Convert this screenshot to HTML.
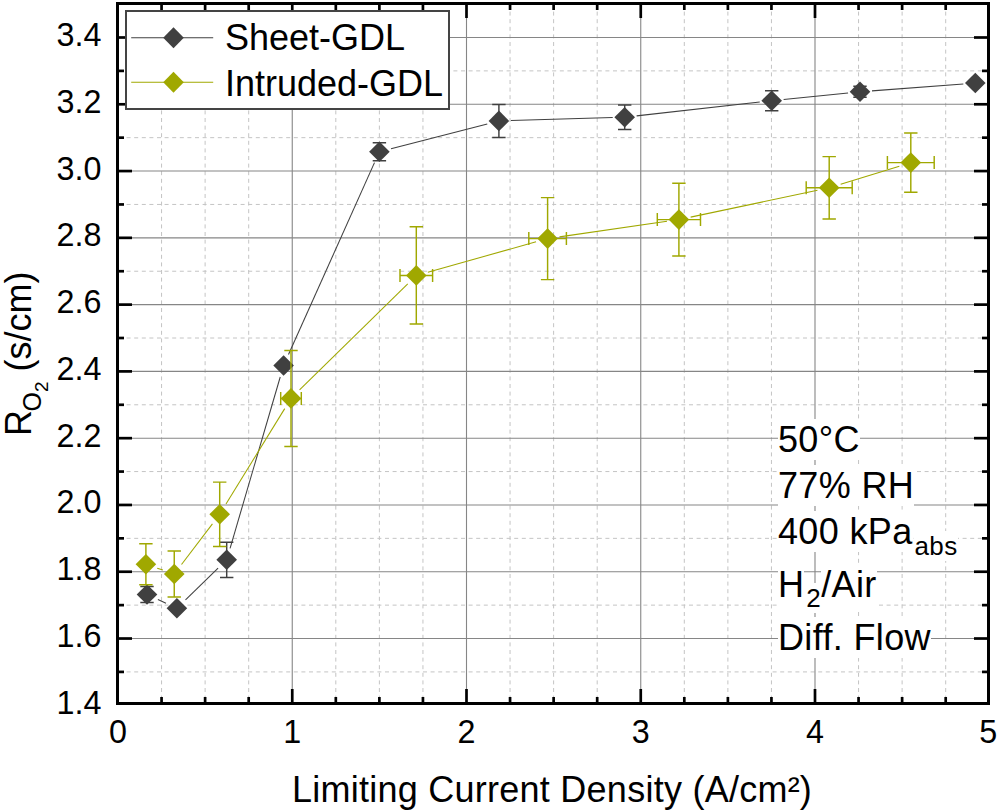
<!DOCTYPE html>
<html><head><meta charset="utf-8">
<style>
html,body{margin:0;padding:0;background:#fff;}
body{width:1000px;height:812px;position:relative;overflow:hidden;font-family:"Liberation Sans",sans-serif;}
svg{position:absolute;left:0;top:0;}
.mg{stroke:#c4c4c4;stroke-width:1;stroke-dasharray:4 3.6;}
.mgh{stroke:#c4c4c4;stroke-width:1;stroke-dasharray:4 3.6;}
.Mg{stroke:#868686;stroke-width:1.1;}
.tk{stroke:#000;stroke-width:2.7;}
.tl{font-size:32.3px;fill:#000;}
.legend{position:absolute;left:125px;top:10px;width:321px;height:96px;border:2px solid #444;background:#fff;}
.lt{position:absolute;font-size:36px;line-height:1;color:#000;white-space:nowrap;}
.ann{position:absolute;left:778px;font-size:36px;white-space:nowrap;color:#000;letter-spacing:0.35px;}
.ann span{background:#fff;}
.ytitle{position:absolute;font-size:36px;white-space:nowrap;transform-origin:0 0;transform:rotate(-90deg);}
.xtitle{position:absolute;font-size:36px;white-space:nowrap;letter-spacing:0.25px;}
</style></head><body>
<svg width="1000" height="812" viewBox="0 0 1000 812">
<line x1="161.56" y1="4" x2="161.56" y2="702" class="mg"/>
<line x1="205.12" y1="4" x2="205.12" y2="702" class="mg"/>
<line x1="248.69" y1="4" x2="248.69" y2="702" class="mg"/>
<line x1="335.81" y1="4" x2="335.81" y2="702" class="mg"/>
<line x1="379.38" y1="4" x2="379.38" y2="702" class="mg"/>
<line x1="422.94" y1="4" x2="422.94" y2="702" class="mg"/>
<line x1="510.06" y1="4" x2="510.06" y2="702" class="mg"/>
<line x1="553.62" y1="4" x2="553.62" y2="702" class="mg"/>
<line x1="597.19" y1="4" x2="597.19" y2="702" class="mg"/>
<line x1="684.31" y1="4" x2="684.31" y2="702" class="mg"/>
<line x1="727.88" y1="4" x2="727.88" y2="702" class="mg"/>
<line x1="771.44" y1="4" x2="771.44" y2="702" class="mg"/>
<line x1="858.56" y1="4" x2="858.56" y2="702" class="mg"/>
<line x1="902.12" y1="4" x2="902.12" y2="702" class="mg"/>
<line x1="945.69" y1="4" x2="945.69" y2="702" class="mg"/>
<line x1="119" y1="671.91" x2="987" y2="671.91" class="mgh"/>
<line x1="119" y1="605.13" x2="987" y2="605.13" class="mgh"/>
<line x1="119" y1="538.35" x2="987" y2="538.35" class="mgh"/>
<line x1="119" y1="471.57" x2="987" y2="471.57" class="mgh"/>
<line x1="119" y1="404.79" x2="987" y2="404.79" class="mgh"/>
<line x1="119" y1="338.01" x2="987" y2="338.01" class="mgh"/>
<line x1="119" y1="271.23" x2="987" y2="271.23" class="mgh"/>
<line x1="119" y1="204.45" x2="987" y2="204.45" class="mgh"/>
<line x1="119" y1="137.67" x2="987" y2="137.67" class="mgh"/>
<line x1="119" y1="70.89" x2="987" y2="70.89" class="mgh"/>
<line x1="292.25" y1="4" x2="292.25" y2="702" class="Mg"/>
<line x1="466.50" y1="4" x2="466.50" y2="702" class="Mg"/>
<line x1="640.75" y1="4" x2="640.75" y2="702" class="Mg"/>
<line x1="815.00" y1="4" x2="815.00" y2="702" class="Mg"/>
<line x1="119" y1="638.52" x2="987" y2="638.52" class="Mg"/>
<line x1="119" y1="571.74" x2="987" y2="571.74" class="Mg"/>
<line x1="119" y1="504.96" x2="987" y2="504.96" class="Mg"/>
<line x1="119" y1="438.18" x2="987" y2="438.18" class="Mg"/>
<line x1="119" y1="371.40" x2="987" y2="371.40" class="Mg"/>
<line x1="119" y1="304.62" x2="987" y2="304.62" class="Mg"/>
<line x1="119" y1="237.84" x2="987" y2="237.84" class="Mg"/>
<line x1="119" y1="171.06" x2="987" y2="171.06" class="Mg"/>
<line x1="119" y1="104.28" x2="987" y2="104.28" class="Mg"/>
<line x1="119" y1="37.50" x2="987" y2="37.50" class="Mg"/>
<line x1="157.91" y1="599.50" x2="165.99" y2="603.20" stroke="#404040" stroke-width="1.05"/>
<line x1="185.51" y1="599.84" x2="218.09" y2="568.16" stroke="#404040" stroke-width="1.05"/>
<line x1="230.07" y1="548.28" x2="280.23" y2="377.02" stroke="#404040" stroke-width="1.05"/>
<line x1="288.51" y1="354.55" x2="374.49" y2="162.65" stroke="#404040" stroke-width="1.05"/>
<line x1="391.02" y1="148.70" x2="487.28" y2="123.90" stroke="#404040" stroke-width="1.05"/>
<line x1="510.89" y1="120.55" x2="612.71" y2="117.55" stroke="#404040" stroke-width="1.05"/>
<line x1="636.63" y1="115.86" x2="759.77" y2="102.04" stroke="#404040" stroke-width="1.05"/>
<line x1="783.64" y1="99.50" x2="848.06" y2="93.00" stroke="#404040" stroke-width="1.05"/>
<line x1="871.97" y1="90.89" x2="963.33" y2="83.91" stroke="#404040" stroke-width="1.05"/>
<path d="M147.00 586.50V602.50M140.30 586.50H153.70M140.30 602.50H153.70" stroke="#404040" stroke-width="1.45" fill="none"/>
<path d="M226.70 542.20V577.40M220.00 542.20H233.40M220.00 577.40H233.40" stroke="#404040" stroke-width="1.45" fill="none"/>
<path d="M379.40 142.70V160.70M372.70 142.70H386.10M372.70 160.70H386.10" stroke="#404040" stroke-width="1.45" fill="none"/>
<path d="M498.90 104.40V137.40M492.20 104.40H505.60M492.20 137.40H505.60" stroke="#404040" stroke-width="1.45" fill="none"/>
<path d="M624.70 105.00V129.40M618.00 105.00H631.40M618.00 129.40H631.40" stroke="#404040" stroke-width="1.45" fill="none"/>
<path d="M771.70 90.70V110.70M765.00 90.70H778.40M765.00 110.70H778.40" stroke="#404040" stroke-width="1.45" fill="none"/>
<path d="M860.00 86.30V97.30M853.30 86.30H866.70M853.30 97.30H866.70" stroke="#404040" stroke-width="1.45" fill="none"/>
<path d="M147.00 584.20L157.30 594.50L147.00 604.80L136.70 594.50Z" fill="#404040"/>
<path d="M176.90 597.90L187.20 608.20L176.90 618.50L166.60 608.20Z" fill="#404040"/>
<path d="M226.70 549.50L237.00 559.80L226.70 570.10L216.40 559.80Z" fill="#404040"/>
<path d="M283.60 355.20L293.90 365.50L283.60 375.80L273.30 365.50Z" fill="#404040"/>
<path d="M379.40 141.40L389.70 151.70L379.40 162.00L369.10 151.70Z" fill="#404040"/>
<path d="M498.90 110.60L509.20 120.90L498.90 131.20L488.60 120.90Z" fill="#404040"/>
<path d="M624.70 106.90L635.00 117.20L624.70 127.50L614.40 117.20Z" fill="#404040"/>
<path d="M771.70 90.40L782.00 100.70L771.70 111.00L761.40 100.70Z" fill="#404040"/>
<path d="M860.00 81.50L870.30 91.80L860.00 102.10L849.70 91.80Z" fill="#404040"/>
<path d="M975.30 72.70L985.60 83.00L975.30 93.30L965.00 83.00Z" fill="#404040"/>
<line x1="157.25" y1="568.18" x2="162.90" y2="570.12" stroke="#a0a800" stroke-width="1.05"/>
<line x1="181.52" y1="564.45" x2="212.43" y2="523.85" stroke="#a0a800" stroke-width="1.05"/>
<line x1="225.99" y1="504.08" x2="284.71" y2="408.62" stroke="#a0a800" stroke-width="1.05"/>
<line x1="299.56" y1="389.99" x2="407.74" y2="283.81" stroke="#a0a800" stroke-width="1.05"/>
<line x1="427.85" y1="272.16" x2="536.05" y2="241.84" stroke="#a0a800" stroke-width="1.05"/>
<line x1="559.48" y1="236.88" x2="667.02" y2="221.32" stroke="#a0a800" stroke-width="1.05"/>
<line x1="690.64" y1="217.12" x2="817.46" y2="190.28" stroke="#a0a800" stroke-width="1.05"/>
<line x1="840.67" y1="184.26" x2="899.33" y2="166.14" stroke="#a0a800" stroke-width="1.05"/>
<path d="M145.90 543.80V584.80M139.20 543.80H152.60M139.20 584.80H152.60" stroke="#a0a800" stroke-width="1.45" fill="none"/>
<path d="M174.25 551.00V597.00M167.55 551.00H180.95M167.55 597.00H180.95" stroke="#a0a800" stroke-width="1.45" fill="none"/>
<path d="M219.70 482.10V546.50M213.00 482.10H226.40M213.00 546.50H226.40" stroke="#a0a800" stroke-width="1.45" fill="none"/>
<path d="M291.00 350.40V446.40M284.30 350.40H297.70M284.30 446.40H297.70" stroke="#a0a800" stroke-width="1.45" fill="none"/>
<path d="M280.70 398.40H301.30M280.70 391.90V404.90M301.30 391.90V404.90" stroke="#a0a800" stroke-width="1.45" fill="none"/>
<path d="M416.30 226.80V324.00M409.60 226.80H423.00M409.60 324.00H423.00" stroke="#a0a800" stroke-width="1.45" fill="none"/>
<path d="M400.00 275.40H432.60M400.00 268.90V281.90M432.60 268.90V281.90" stroke="#a0a800" stroke-width="1.45" fill="none"/>
<path d="M547.60 197.60V279.60M540.90 197.60H554.30M540.90 279.60H554.30" stroke="#a0a800" stroke-width="1.45" fill="none"/>
<path d="M528.80 238.60H566.40M528.80 232.10V245.10M566.40 232.10V245.10" stroke="#a0a800" stroke-width="1.45" fill="none"/>
<path d="M678.90 183.20V256.00M672.20 183.20H685.60M672.20 256.00H685.60" stroke="#a0a800" stroke-width="1.45" fill="none"/>
<path d="M657.30 219.60H700.50M657.30 213.10V226.10M700.50 213.10V226.10" stroke="#a0a800" stroke-width="1.45" fill="none"/>
<path d="M829.20 156.60V219.00M822.50 156.60H835.90M822.50 219.00H835.90" stroke="#a0a800" stroke-width="1.45" fill="none"/>
<path d="M806.20 187.80H852.20M806.20 181.30V194.30M852.20 181.30V194.30" stroke="#a0a800" stroke-width="1.45" fill="none"/>
<path d="M910.80 132.90V192.30M904.10 132.90H917.50M904.10 192.30H917.50" stroke="#a0a800" stroke-width="1.45" fill="none"/>
<path d="M887.40 162.60H934.20M887.40 156.10V169.10M934.20 156.10V169.10" stroke="#a0a800" stroke-width="1.45" fill="none"/>
<path d="M145.90 554.00L156.20 564.30L145.90 574.60L135.60 564.30Z" fill="#a0a800"/>
<path d="M174.25 563.70L184.55 574.00L174.25 584.30L163.95 574.00Z" fill="#a0a800"/>
<path d="M219.70 504.00L230.00 514.30L219.70 524.60L209.40 514.30Z" fill="#a0a800"/>
<path d="M291.00 388.10L301.30 398.40L291.00 408.70L280.70 398.40Z" fill="#a0a800"/>
<path d="M416.30 265.10L426.60 275.40L416.30 285.70L406.00 275.40Z" fill="#a0a800"/>
<path d="M547.60 228.30L557.90 238.60L547.60 248.90L537.30 238.60Z" fill="#a0a800"/>
<path d="M678.90 209.30L689.20 219.60L678.90 229.90L668.60 219.60Z" fill="#a0a800"/>
<path d="M829.20 177.50L839.50 187.80L829.20 198.10L818.90 187.80Z" fill="#a0a800"/>
<path d="M910.80 152.30L921.10 162.60L910.80 172.90L900.50 162.60Z" fill="#a0a800"/>
<rect x="116" y="2" width="3" height="703" fill="#000"/>
<rect x="987" y="2" width="3" height="703" fill="#000"/>
<rect x="116" y="2" width="874" height="3" fill="#000"/>
<rect x="116" y="702" width="874" height="3" fill="#000"/>
<line x1="161.56" y1="702" x2="161.56" y2="697" class="tk"/>
<line x1="161.56" y1="5" x2="161.56" y2="10" class="tk"/>
<line x1="205.12" y1="702" x2="205.12" y2="697" class="tk"/>
<line x1="205.12" y1="5" x2="205.12" y2="10" class="tk"/>
<line x1="248.69" y1="702" x2="248.69" y2="697" class="tk"/>
<line x1="248.69" y1="5" x2="248.69" y2="10" class="tk"/>
<line x1="292.25" y1="702" x2="292.25" y2="689" class="tk"/>
<line x1="292.25" y1="5" x2="292.25" y2="18" class="tk"/>
<line x1="335.81" y1="702" x2="335.81" y2="697" class="tk"/>
<line x1="335.81" y1="5" x2="335.81" y2="10" class="tk"/>
<line x1="379.38" y1="702" x2="379.38" y2="697" class="tk"/>
<line x1="379.38" y1="5" x2="379.38" y2="10" class="tk"/>
<line x1="422.94" y1="702" x2="422.94" y2="697" class="tk"/>
<line x1="422.94" y1="5" x2="422.94" y2="10" class="tk"/>
<line x1="466.50" y1="702" x2="466.50" y2="689" class="tk"/>
<line x1="466.50" y1="5" x2="466.50" y2="18" class="tk"/>
<line x1="510.06" y1="702" x2="510.06" y2="697" class="tk"/>
<line x1="510.06" y1="5" x2="510.06" y2="10" class="tk"/>
<line x1="553.62" y1="702" x2="553.62" y2="697" class="tk"/>
<line x1="553.62" y1="5" x2="553.62" y2="10" class="tk"/>
<line x1="597.19" y1="702" x2="597.19" y2="697" class="tk"/>
<line x1="597.19" y1="5" x2="597.19" y2="10" class="tk"/>
<line x1="640.75" y1="702" x2="640.75" y2="689" class="tk"/>
<line x1="640.75" y1="5" x2="640.75" y2="18" class="tk"/>
<line x1="684.31" y1="702" x2="684.31" y2="697" class="tk"/>
<line x1="684.31" y1="5" x2="684.31" y2="10" class="tk"/>
<line x1="727.88" y1="702" x2="727.88" y2="697" class="tk"/>
<line x1="727.88" y1="5" x2="727.88" y2="10" class="tk"/>
<line x1="771.44" y1="702" x2="771.44" y2="697" class="tk"/>
<line x1="771.44" y1="5" x2="771.44" y2="10" class="tk"/>
<line x1="815.00" y1="702" x2="815.00" y2="689" class="tk"/>
<line x1="815.00" y1="5" x2="815.00" y2="18" class="tk"/>
<line x1="858.56" y1="702" x2="858.56" y2="697" class="tk"/>
<line x1="858.56" y1="5" x2="858.56" y2="10" class="tk"/>
<line x1="902.12" y1="702" x2="902.12" y2="697" class="tk"/>
<line x1="902.12" y1="5" x2="902.12" y2="10" class="tk"/>
<line x1="945.69" y1="702" x2="945.69" y2="697" class="tk"/>
<line x1="945.69" y1="5" x2="945.69" y2="10" class="tk"/>
<line x1="119" y1="671.91" x2="124" y2="671.91" class="tk"/>
<line x1="987" y1="671.91" x2="982" y2="671.91" class="tk"/>
<line x1="119" y1="638.52" x2="132" y2="638.52" class="tk"/>
<line x1="987" y1="638.52" x2="974" y2="638.52" class="tk"/>
<line x1="119" y1="605.13" x2="124" y2="605.13" class="tk"/>
<line x1="987" y1="605.13" x2="982" y2="605.13" class="tk"/>
<line x1="119" y1="571.74" x2="132" y2="571.74" class="tk"/>
<line x1="987" y1="571.74" x2="974" y2="571.74" class="tk"/>
<line x1="119" y1="538.35" x2="124" y2="538.35" class="tk"/>
<line x1="987" y1="538.35" x2="982" y2="538.35" class="tk"/>
<line x1="119" y1="504.96" x2="132" y2="504.96" class="tk"/>
<line x1="987" y1="504.96" x2="974" y2="504.96" class="tk"/>
<line x1="119" y1="471.57" x2="124" y2="471.57" class="tk"/>
<line x1="987" y1="471.57" x2="982" y2="471.57" class="tk"/>
<line x1="119" y1="438.18" x2="132" y2="438.18" class="tk"/>
<line x1="987" y1="438.18" x2="974" y2="438.18" class="tk"/>
<line x1="119" y1="404.79" x2="124" y2="404.79" class="tk"/>
<line x1="987" y1="404.79" x2="982" y2="404.79" class="tk"/>
<line x1="119" y1="371.40" x2="132" y2="371.40" class="tk"/>
<line x1="987" y1="371.40" x2="974" y2="371.40" class="tk"/>
<line x1="119" y1="338.01" x2="124" y2="338.01" class="tk"/>
<line x1="987" y1="338.01" x2="982" y2="338.01" class="tk"/>
<line x1="119" y1="304.62" x2="132" y2="304.62" class="tk"/>
<line x1="987" y1="304.62" x2="974" y2="304.62" class="tk"/>
<line x1="119" y1="271.23" x2="124" y2="271.23" class="tk"/>
<line x1="987" y1="271.23" x2="982" y2="271.23" class="tk"/>
<line x1="119" y1="237.84" x2="132" y2="237.84" class="tk"/>
<line x1="987" y1="237.84" x2="974" y2="237.84" class="tk"/>
<line x1="119" y1="204.45" x2="124" y2="204.45" class="tk"/>
<line x1="987" y1="204.45" x2="982" y2="204.45" class="tk"/>
<line x1="119" y1="171.06" x2="132" y2="171.06" class="tk"/>
<line x1="987" y1="171.06" x2="974" y2="171.06" class="tk"/>
<line x1="119" y1="137.67" x2="124" y2="137.67" class="tk"/>
<line x1="987" y1="137.67" x2="982" y2="137.67" class="tk"/>
<line x1="119" y1="104.28" x2="132" y2="104.28" class="tk"/>
<line x1="987" y1="104.28" x2="974" y2="104.28" class="tk"/>
<line x1="119" y1="70.89" x2="124" y2="70.89" class="tk"/>
<line x1="987" y1="70.89" x2="982" y2="70.89" class="tk"/>
<line x1="119" y1="37.50" x2="132" y2="37.50" class="tk"/>
<line x1="987" y1="37.50" x2="974" y2="37.50" class="tk"/>
</svg>
<div class="legend">
<svg width="100" height="98" style="position:absolute;left:0;top:0">
<line x1="4.2" y1="25.7" x2="86.2" y2="25.7" stroke="#404040" stroke-width="1.15"/>
<path d="M46.5 15.2L56.8 25.7L46.5 36.2L36.2 25.7Z" fill="#404040"/>
<line x1="4.2" y1="70.2" x2="86.2" y2="70.2" stroke="#a0a800" stroke-width="1.15"/>
<path d="M46.5 59.7L56.8 70.2L46.5 80.7L36.2 70.2Z" fill="#a0a800"/>
</svg>
<div class="lt" style="left:98px;top:8px">Sheet-GDL</div>
<div class="lt" style="left:98px;top:54px">Intruded-GDL</div>
</div>
<svg width="1000" height="812" viewBox="0 0 1000 812" style="pointer-events:none">
<text x="101.5" y="713.7" text-anchor="end" class="tl">1.4</text>
<text x="101.5" y="646.9" text-anchor="end" class="tl">1.6</text>
<text x="101.5" y="580.1" text-anchor="end" class="tl">1.8</text>
<text x="101.5" y="513.4" text-anchor="end" class="tl">2.0</text>
<text x="101.5" y="446.6" text-anchor="end" class="tl">2.2</text>
<text x="101.5" y="379.8" text-anchor="end" class="tl">2.4</text>
<text x="101.5" y="313.0" text-anchor="end" class="tl">2.6</text>
<text x="101.5" y="246.2" text-anchor="end" class="tl">2.8</text>
<text x="101.5" y="179.5" text-anchor="end" class="tl">3.0</text>
<text x="101.5" y="112.7" text-anchor="end" class="tl">3.2</text>
<text x="101.5" y="45.9" text-anchor="end" class="tl">3.4</text>
<text x="118.0" y="742.9" text-anchor="middle" class="tl">0</text>
<text x="292.2" y="742.9" text-anchor="middle" class="tl">1</text>
<text x="466.5" y="742.9" text-anchor="middle" class="tl">2</text>
<text x="640.8" y="742.9" text-anchor="middle" class="tl">3</text>
<text x="815.0" y="742.9" text-anchor="middle" class="tl">4</text>
<text x="988.3" y="742.9" text-anchor="middle" class="tl">5</text>
</svg>
<div class="ann" style="top:419px"><span>50°C</span></div>
<div class="ann" style="top:465.4px"><span>77% RH</span></div>
<div class="ann" style="top:511.3px"><span>400 kPa</span><span style="font-size:26px;position:relative;top:11px;margin-left:2px">abs</span></div>
<div class="ann" style="top:564px"><span style="padding-bottom:4px">H</span><span style="font-size:26px;position:relative;top:10px;padding-left:2px">2</span><span style="padding-bottom:4px">/Air</span></div>
<div class="ann" style="top:617px"><span>Diff. Flow</span></div>
<div class="xtitle" style="left:292px;top:768.5px">Limiting Current Density (A/cm²)</div>
<div class="ytitle" style="left:-2px;top:436px">R<span style="font-size:25px;position:relative;top:9.5px;margin-left:-1.5px">O<span style="font-size:19px;position:relative;top:7px">2</span></span> (s/cm)</div>
</body></html>
